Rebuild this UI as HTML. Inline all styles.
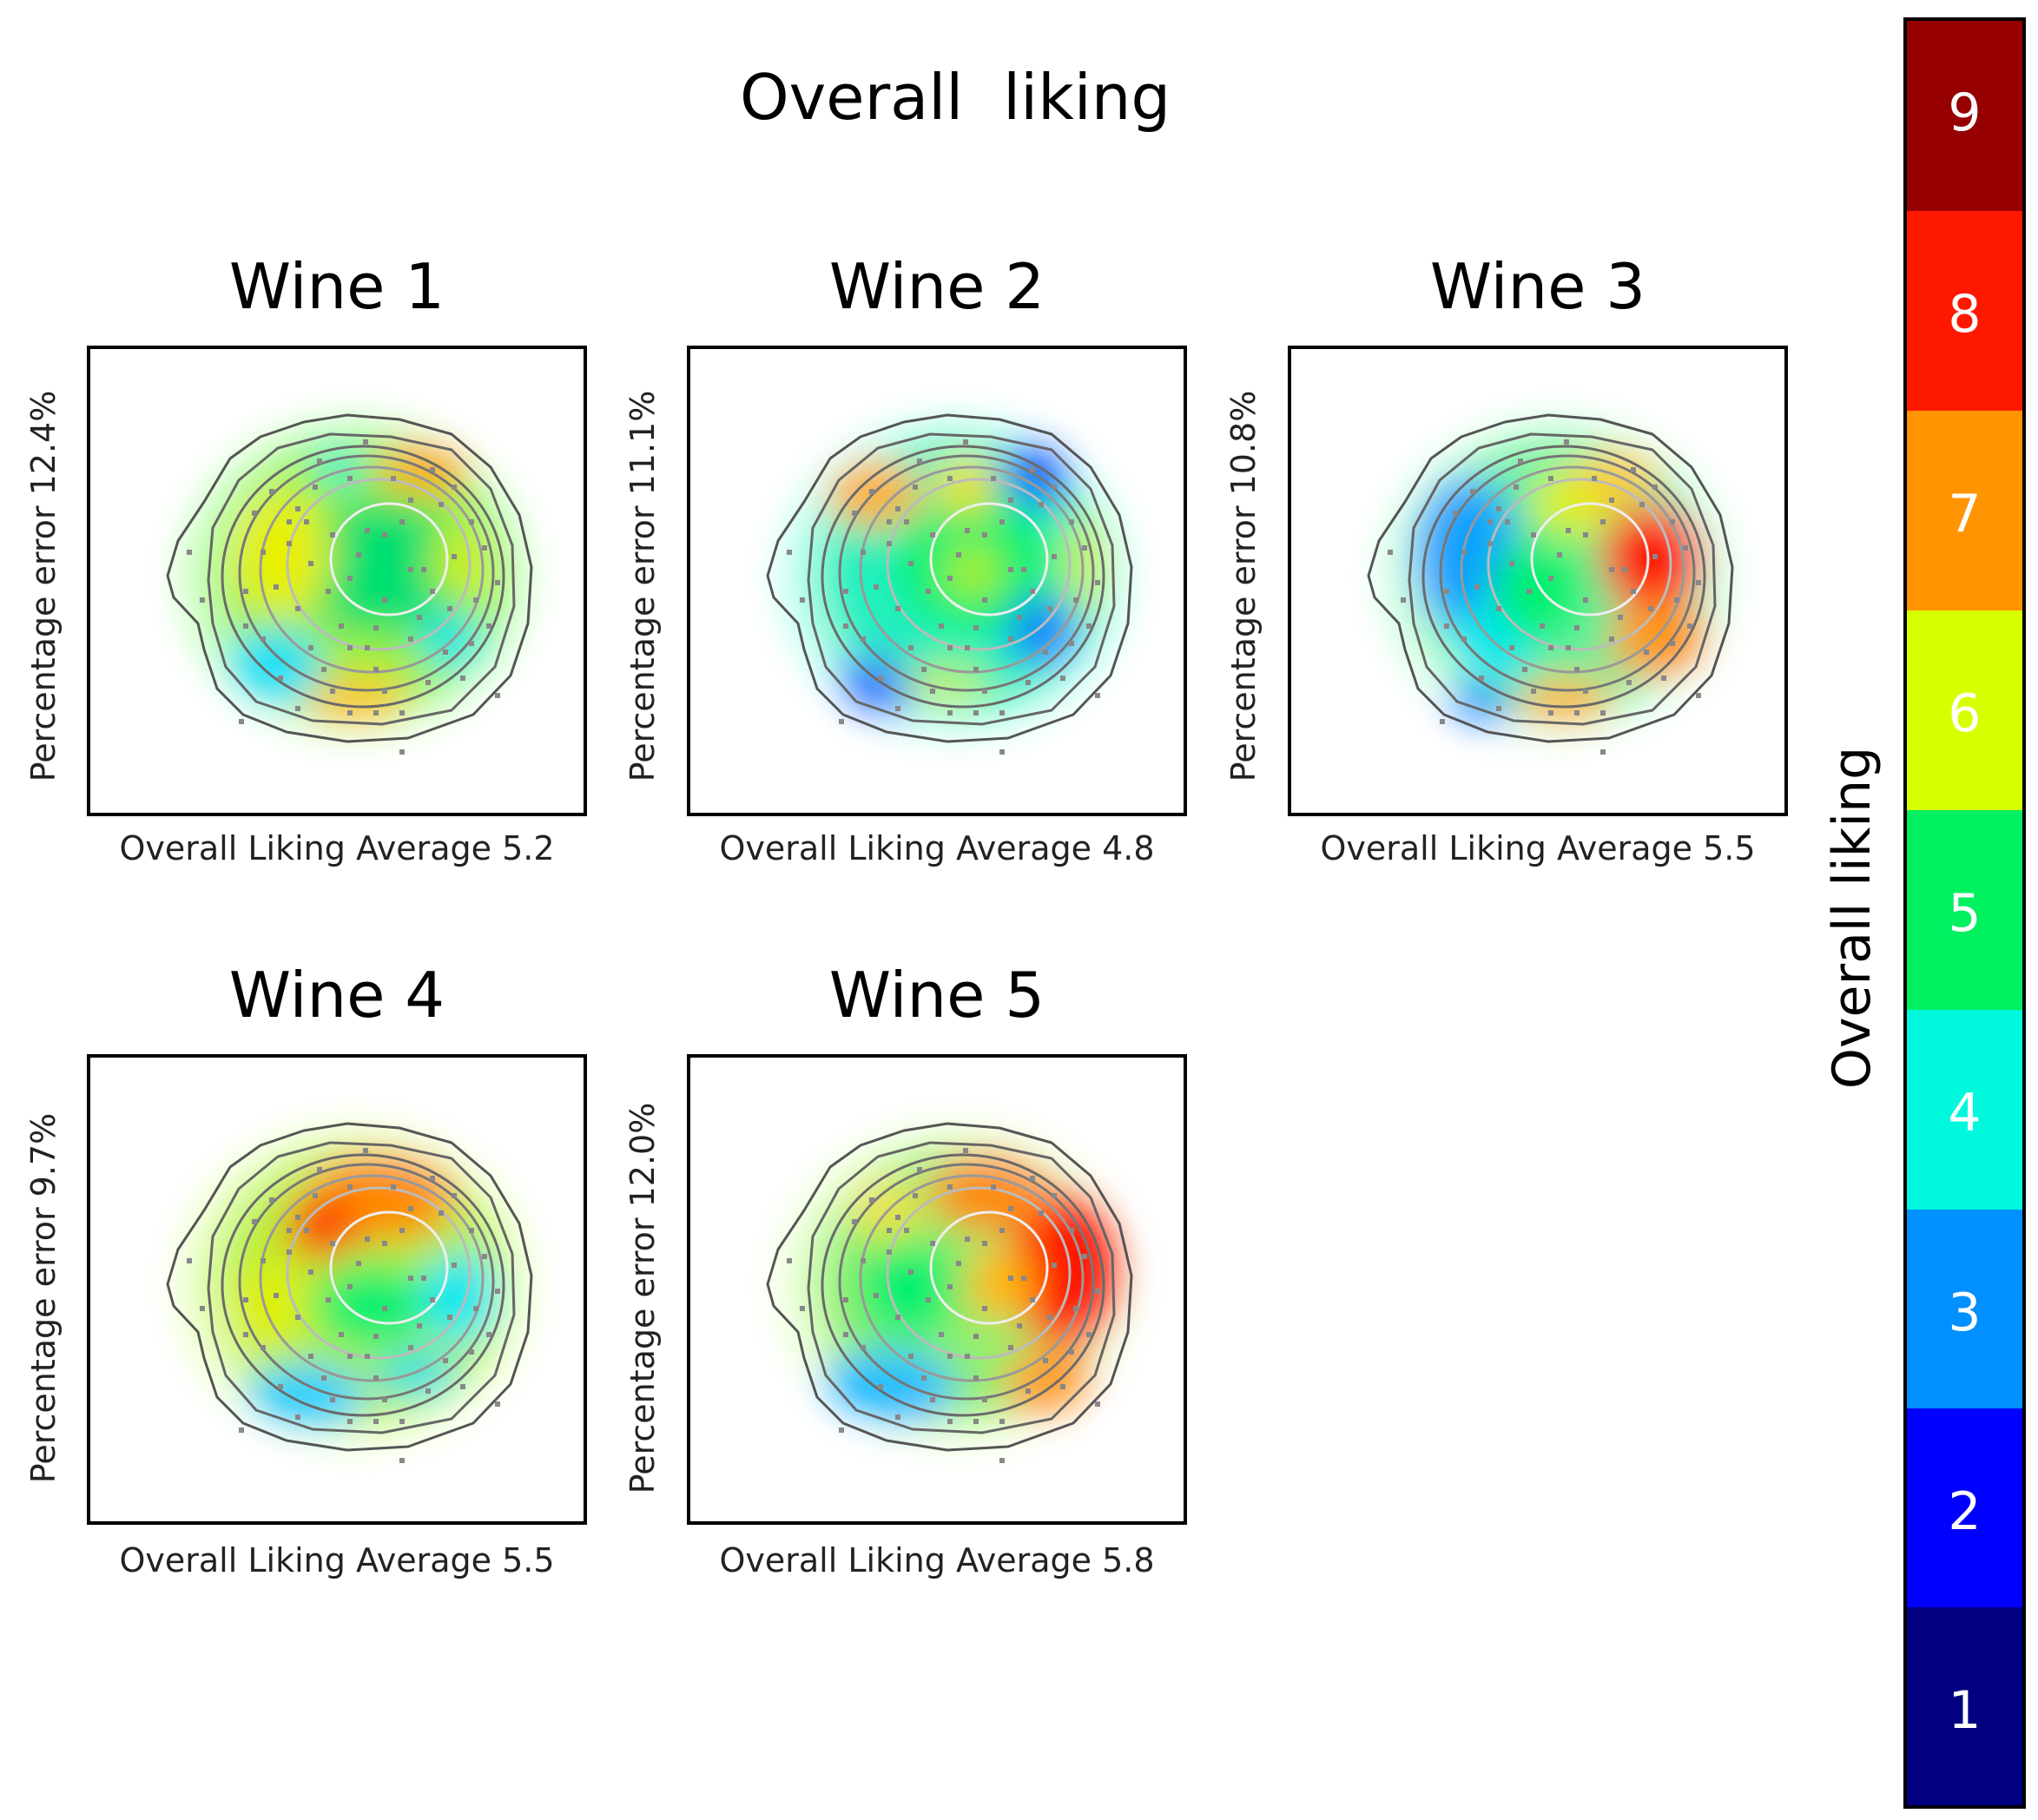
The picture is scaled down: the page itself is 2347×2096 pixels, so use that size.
<!DOCTYPE html>
<html><head><meta charset="utf-8"><style>
body{margin:0;width:2347px;height:2096px;background:#fff;position:relative;overflow:hidden;font-family:"DejaVu Sans","Liberation Sans",sans-serif;}
.t{position:absolute;white-space:pre;color:#000;}
.panel{position:absolute;width:576px;height:542px;}
.title{font-size:72px;width:576px;text-align:center;}
.xl{font-size:38px;width:700px;text-align:center;color:#222;}
.yl{font-size:38px;color:#222;transform-origin:0 0;transform:rotate(-90deg);width:520px;text-align:center;}
.cb{position:absolute;left:2192px;width:141px;}
.num{position:absolute;left:2192px;width:141px;text-align:center;color:#fff;font-size:60px;}
</style></head><body>
<div class="t" style="left:852px;top:70px;font-size:72px;">Overall  liking</div>

<svg width="0" height="0" style="position:absolute">
<defs>
<filter id="bl" x="-50%" y="-50%" width="200%" height="200%"><feGaussianBlur stdDeviation="22"/></filter>
<radialGradient id="mg" cx="0.5" cy="0.5" r="0.5"><stop offset="0" stop-color="#fff"/><stop offset="0.68" stop-color="#fff"/><stop offset="0.85" stop-color="#fff" stop-opacity="0.55"/><stop offset="1" stop-color="#fff" stop-opacity="0"/></radialGradient>
<mask id="mk" maskUnits="userSpaceOnUse" x="0" y="0" width="576" height="542"><ellipse cx="308" cy="266" rx="250" ry="230" fill="url(#mg)"/></mask>
<g id="cont" fill="none" stroke-linejoin="round">
<path d="M93,265 L105,225 L135,180 L165,130 L200,105 L250,88 L300,80 L360,85 L420,102 L465,140 L498,195 L512,255 L508,320 L488,380 L445,425 L370,452 L300,456 L230,445 L180,425 L150,395 L135,350 L128,320 L100,290 Z" stroke="#555" stroke-width="3"/>
<path d="M140,270 L145,210 L175,155 L220,118 L280,102 L350,105 L420,120 L465,165 L490,230 L492,300 L470,370 L420,420 L340,436 L260,432 L195,410 L160,370 L145,320 Z" stroke="#666" stroke-width="3"/>
<ellipse cx="318" cy="266" rx="162" ry="150" stroke="#6a6a6a" stroke-width="3"/>
<ellipse cx="322" cy="262" rx="146" ry="135" stroke="#777" stroke-width="3"/>
<ellipse cx="328" cy="258" rx="128" ry="118" stroke="#999" stroke-width="3"/>
<ellipse cx="336" cy="252" rx="105" ry="98" stroke="#bbb" stroke-width="3"/>
<ellipse cx="348" cy="246" rx="67" ry="64" stroke="#eee" stroke-width="3"/>
</g>
<g id="dots" fill="#888">
<rect x="318" y="108" width="6" height="6"/><rect x="260" y="160" width="6" height="6"/><rect x="300" y="150" width="6" height="6"/><rect x="350" y="150" width="6" height="6"/><rect x="395" y="140" width="6" height="6"/><rect x="420" y="160" width="6" height="6"/><rect x="210" y="165" width="6" height="6"/><rect x="190" y="190" width="6" height="6"/><rect x="240" y="185" width="6" height="6"/><rect x="370" y="175" width="6" height="6"/><rect x="405" y="180" width="6" height="6"/><rect x="440" y="200" width="6" height="6"/><rect x="280" y="215" width="6" height="6"/><rect x="320" y="210" width="6" height="6"/><rect x="340" y="215" width="6" height="6"/><rect x="230" y="225" width="6" height="6"/><rect x="200" y="235" width="6" height="6"/><rect x="255" y="248" width="6" height="6"/><rect x="310" y="238" width="6" height="6"/><rect x="370" y="255" width="6" height="6"/><rect x="385" y="255" width="6" height="6"/><rect x="420" y="240" width="6" height="6"/><rect x="455" y="230" width="6" height="6"/><rect x="470" y="270" width="6" height="6"/><rect x="180" y="280" width="6" height="6"/><rect x="215" y="275" width="6" height="6"/><rect x="275" y="280" width="6" height="6"/><rect x="300" y="265" width="6" height="6"/><rect x="340" y="290" width="6" height="6"/><rect x="380" y="310" width="6" height="6"/><rect x="415" y="300" width="6" height="6"/><rect x="445" y="290" width="6" height="6"/><rect x="240" y="300" width="6" height="6"/><rect x="290" y="320" width="6" height="6"/><rect x="330" y="322" width="6" height="6"/><rect x="370" y="335" width="6" height="6"/><rect x="200" y="335" width="6" height="6"/><rect x="255" y="345" width="6" height="6"/><rect x="300" y="345" width="6" height="6"/><rect x="320" y="345" width="6" height="6"/><rect x="410" y="350" width="6" height="6"/><rect x="440" y="340" width="6" height="6"/><rect x="330" y="370" width="6" height="6"/><rect x="220" y="380" width="6" height="6"/><rect x="280" y="395" width="6" height="6"/><rect x="340" y="395" width="6" height="6"/><rect x="390" y="385" width="6" height="6"/><rect x="240" y="415" width="6" height="6"/><rect x="300" y="420" width="6" height="6"/><rect x="330" y="420" width="6" height="6"/><rect x="175" y="430" width="6" height="6"/><rect x="360" y="465" width="6" height="6"/><rect x="470" y="400" width="6" height="6"/><rect x="130" y="290" width="6" height="6"/><rect x="115" y="235" width="6" height="6"/>
<rect x="265" y="130" width="6" height="6"/><rect x="230" y="200" width="6" height="6"/><rect x="360" y="200" width="6" height="6"/><rect x="180" y="320" width="6" height="6"/><rect x="395" y="280" width="6" height="6"/><rect x="270" y="370" width="6" height="6"/><rect x="360" y="420" width="6" height="6"/><rect x="430" y="380" width="6" height="6"/><rect x="250" y="200" width="6" height="6"/><rect x="460" y="320" width="6" height="6"/>
</g>
</defs></svg>

<svg class="panel" style="left:100px;top:398px" viewBox="0 0 576 542">
<g mask="url(#mk)"><g filter="url(#bl)">
<ellipse cx="308" cy="266" rx="215" ry="195" fill="#c8ffc0"/>
<ellipse cx="315" cy="265" rx="165" ry="155" fill="#a0f040"/>
<ellipse cx="340" cy="255" rx="95" ry="80" fill="#00e070"/>
<ellipse cx="225" cy="240" rx="55" ry="70" fill="#e8f000"/>
<ellipse cx="390" cy="140" rx="55" ry="30" fill="#ffa800"/>
<ellipse cx="290" cy="140" rx="30" ry="25" fill="#00f0d0"/>
<ellipse cx="215" cy="370" rx="55" ry="45" fill="#00e0f8"/>
<ellipse cx="420" cy="340" rx="40" ry="35" fill="#00e8e0"/>
<ellipse cx="310" cy="410" rx="60" ry="30" fill="#ffc830"/>
<ellipse cx="430" cy="250" rx="30" ry="40" fill="#d0f000"/>
</g></g>
<use href="#cont"/><use href="#dots"/>
<rect x="2" y="2" width="572" height="538" fill="none" stroke="#000" stroke-width="4"/>
</svg>

<svg class="panel" style="left:791px;top:398px" viewBox="0 0 576 542">
<g mask="url(#mk)"><g filter="url(#bl)">
<ellipse cx="308" cy="266" rx="215" ry="195" fill="#c0fff0"/>
<ellipse cx="315" cy="265" rx="165" ry="155" fill="#20f0c0"/>
<ellipse cx="330" cy="250" rx="90" ry="80" fill="#00f070"/>
<ellipse cx="215" cy="170" rx="55" ry="40" fill="#ffb030"/>
<ellipse cx="320" cy="160" rx="35" ry="35" fill="#f0e000"/>
<ellipse cx="405" cy="145" rx="40" ry="40" fill="#1060ff"/>
<ellipse cx="410" cy="330" rx="40" ry="40" fill="#1080ff"/>
<ellipse cx="215" cy="395" rx="45" ry="40" fill="#4080ff"/>
<ellipse cx="330" cy="260" rx="30" ry="30" fill="#b0f000"/>
<ellipse cx="460" cy="250" rx="25" ry="60" fill="#c8f040"/>
<ellipse cx="300" cy="390" rx="50" ry="25" fill="#c0f060"/>
</g></g>
<use href="#cont"/><use href="#dots"/>
<rect x="2" y="2" width="572" height="538" fill="none" stroke="#000" stroke-width="4"/>
</svg>

<svg class="panel" style="left:1483px;top:398px" viewBox="0 0 576 542">
<g mask="url(#mk)"><g filter="url(#bl)">
<ellipse cx="308" cy="266" rx="215" ry="195" fill="#d0ffe0"/>
<ellipse cx="315" cy="265" rx="165" ry="155" fill="#60f0a0"/>
<ellipse cx="205" cy="240" rx="60" ry="90" fill="#10a0ff"/>
<ellipse cx="240" cy="340" rx="50" ry="45" fill="#00e8f0"/>
<ellipse cx="290" cy="280" rx="55" ry="60" fill="#00f070"/>
<ellipse cx="330" cy="180" rx="50" ry="40" fill="#e0f000"/>
<ellipse cx="420" cy="245" rx="60" ry="60" fill="#ff1800"/>
<ellipse cx="430" cy="340" rx="60" ry="45" fill="#ff9818"/>
<ellipse cx="320" cy="410" rx="55" ry="30" fill="#ffb840"/>
<ellipse cx="215" cy="420" rx="40" ry="30" fill="#3098ff"/>
<ellipse cx="380" cy="150" rx="50" ry="30" fill="#ffc820"/>
</g></g>
<use href="#cont"/><use href="#dots"/>
<rect x="2" y="2" width="572" height="538" fill="none" stroke="#000" stroke-width="4"/>
</svg>

<svg class="panel" style="left:100px;top:1214px" viewBox="0 0 576 542">
<g mask="url(#mk)"><g filter="url(#bl)">
<ellipse cx="308" cy="266" rx="215" ry="195" fill="#e8ffc0"/>
<ellipse cx="315" cy="265" rx="165" ry="155" fill="#b8f030"/>
<ellipse cx="340" cy="165" rx="85" ry="50" fill="#ff8800"/>
<ellipse cx="270" cy="200" rx="40" ry="35" fill="#ff1800"/>
<ellipse cx="330" cy="290" rx="70" ry="50" fill="#00f070"/>
<ellipse cx="430" cy="280" rx="45" ry="55" fill="#00e8f0"/>
<ellipse cx="250" cy="395" rx="70" ry="40" fill="#20d0ff"/>
<ellipse cx="380" cy="370" rx="50" ry="30" fill="#30e0e0"/>
<ellipse cx="210" cy="290" rx="40" ry="50" fill="#e0f000"/>
</g></g>
<use href="#cont"/><use href="#dots"/>
<rect x="2" y="2" width="572" height="538" fill="none" stroke="#000" stroke-width="4"/>
</svg>

<svg class="panel" style="left:791px;top:1214px" viewBox="0 0 576 542">
<g mask="url(#mk)"><g filter="url(#bl)">
<ellipse cx="308" cy="266" rx="215" ry="195" fill="#e8ffd0"/>
<ellipse cx="315" cy="265" rx="165" ry="155" fill="#90f070"/>
<ellipse cx="440" cy="245" rx="70" ry="90" fill="#ff1800"/>
<ellipse cx="350" cy="160" rx="70" ry="45" fill="#ff8800"/>
<ellipse cx="360" cy="265" rx="40" ry="40" fill="#ffb800"/>
<ellipse cx="255" cy="270" rx="60" ry="60" fill="#00f070"/>
<ellipse cx="230" cy="385" rx="80" ry="45" fill="#20c0ff"/>
<ellipse cx="420" cy="380" rx="55" ry="45" fill="#ffa030"/>
<ellipse cx="230" cy="180" rx="40" ry="35" fill="#f0e040"/>
</g></g>
<use href="#cont"/><use href="#dots"/>
<rect x="2" y="2" width="572" height="538" fill="none" stroke="#000" stroke-width="4"/>
</svg>

<div class="t title" style="left:100px;top:288px">Wine 1</div>
<div class="t title" style="left:791px;top:288px">Wine 2</div>
<div class="t title" style="left:1483px;top:288px">Wine 3</div>
<div class="t title" style="left:100px;top:1104px">Wine 4</div>
<div class="t title" style="left:791px;top:1104px">Wine 5</div>

<div class="t xl" style="left:38px;top:955px">Overall Liking Average 5.2</div>
<div class="t xl" style="left:729px;top:955px">Overall Liking Average 4.8</div>
<div class="t xl" style="left:1421px;top:955px">Overall Liking Average 5.5</div>
<div class="t xl" style="left:38px;top:1775px">Overall Liking Average 5.5</div>
<div class="t xl" style="left:729px;top:1775px">Overall Liking Average 5.8</div>

<div class="t yl" style="left:28px;top:935px">Percentage error 12.4%</div>
<div class="t yl" style="left:718px;top:935px">Percentage error 11.1%</div>
<div class="t yl" style="left:1410px;top:935px">Percentage error 10.8%</div>
<div class="t yl" style="left:28px;top:1755px">Percentage error 9.7%</div>
<div class="t yl" style="left:718px;top:1755px">Percentage error 12.0%</div>

<div class="cb" style="top:20px;height:2063px;background:#000;"></div>
<div class="cb" style="left:2196px;width:133px;top:24px;height:219px;background:#960000"></div>
<div class="cb" style="left:2196px;width:133px;top:243px;height:230px;background:#ff1800"></div>
<div class="cb" style="left:2196px;width:133px;top:473px;height:230px;background:#ff9400"></div>
<div class="cb" style="left:2196px;width:133px;top:703px;height:230px;background:#d8ff00"></div>
<div class="cb" style="left:2196px;width:133px;top:933px;height:230px;background:#00f060"></div>
<div class="cb" style="left:2196px;width:133px;top:1163px;height:230px;background:#00f8dc"></div>
<div class="cb" style="left:2196px;width:133px;top:1393px;height:229px;background:#0090ff"></div>
<div class="cb" style="left:2196px;width:133px;top:1622px;height:229px;background:#0000ff"></div>
<div class="cb" style="left:2196px;width:133px;top:1851px;height:228px;background:#000080"></div>

<div class="t num" style="top:95px">9</div>
<div class="t num" style="top:327px">8</div>
<div class="t num" style="top:557px">7</div>
<div class="t num" style="top:787px">6</div>
<div class="t num" style="top:1017px">5</div>
<div class="t num" style="top:1247px">4</div>
<div class="t num" style="top:1477px">3</div>
<div class="t num" style="top:1706px">2</div>
<div class="t num" style="top:1935px">1</div>

<div class="t" style="left:2098px;top:1262px;font-size:60px;transform-origin:0 0;transform:rotate(-90deg);width:410px;text-align:center;">Overall liking</div>
</body></html>
